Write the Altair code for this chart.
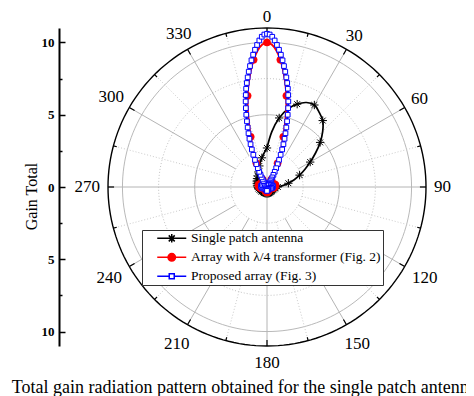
import altair as alt
import pandas as pd

# ---------------- data ----------------
series_names = ["Single patch antenna",
                "Array with \u03bb/4 transformer (Fig. 2)",
                "Proposed array (Fig. 3)"]

black_angles = [0, 5, 10, 15, 20, 25, 30, 35, 40, 45, 50, 55, 60, 65, 70, 75, 80, 85, 90,
                100, 110, 120, 130, 140, 150, 160, 170, 180, 190, 200, 210, 220, 230, 240,
                250, 260, 270, 280, 290, 300, 310, 320, 330, 340, 350, 355, 360]
black_gain = [2.7, 3.85, 4.85, 5.6, 6.1, 6.45, 6.55, 6.3, 6.0, 5.45, 4.8, 4.1, 3.45, 2.9, 2.4, 1.95, 1.5, 1.1, 0.75,
              0.55, 0.5, 0.45, 0.45, 0.45, 0.45, 0.45, 0.45, 0.45, 0.45, 0.45, 0.45, 0.45, 0.5, 0.5,
              0.55, 0.6, 0.65, 0.7, 0.75, 0.82, 0.9, 1.0, 1.2, 1.55, 2.05, 2.35, 2.7]

red_angles = [-180, -174, -168, -162, -156, -150, -144, -138, -132, -126, -120, -114,
              -108, -102, -96, -90, -84, -78, -72, -66, -60, -54, -48, -42,
              -36, -34, -32, -30, -28, -26, -24, -22, -20, -18, -16, -14, -12, -10, -8, -6, -4, -2,
              0, 2, 4, 6, 8, 10, 12, 14, 16, 18, 20, 22, 24, 26, 28, 30, 32, 34, 36,
              42, 48, 54, 60, 66, 72, 78, 84, 90, 96, 102, 108, 114, 120, 126, 132, 138, 144,
              150, 156, 162, 168, 174, 180]
red_gain = [0.37, 0.36, 0.34, 0.31, 0.27, 0.22, 0.16, 0.12, 0.1, 0.14, 0.2, 0.28,
            0.35, 0.42, 0.48, 0.54, 0.58, 0.6, 0.58, 0.52, 0.42, 0.3, 0.18, 0.08,
            0.1, 0.2, 0.36, 0.6, 0.92, 1.32, 1.8, 2.35, 2.95, 3.65, 4.5, 5.5, 6.45, 7.3, 8.1, 8.85, 9.45, 9.85,
            10.0, 9.85, 9.45, 8.85, 8.1, 7.3, 6.45, 5.5, 4.5, 3.65, 2.95, 2.35, 1.8, 1.32, 0.92, 0.6, 0.36, 0.2, 0.1,
            0.08, 0.18, 0.3, 0.42, 0.52, 0.58, 0.6, 0.58, 0.54, 0.48, 0.42, 0.35, 0.28, 0.2, 0.14, 0.1, 0.12, 0.16,
            0.22, 0.27, 0.31, 0.34, 0.36, 0.37]

blue_angles = [-180, -170, -160, -150, -140, -130, -120, -110, -100, -90, -80, -70, -60, -50, -40,
               -36, -35, -34, -33, -32, -31, -30, -29, -28, -27, -26, -25, -24, -23, -22, -21, -20, -19,
               -18, -17, -16, -15, -14, -13, -12, -11, -10, -9, -8, -7, -6, -5, -4, -3, -2, -1,
               0, 1, 2, 3, 4, 5, 6, 7, 8, 9, 10, 11, 12, 13, 14, 15, 16, 17, 18,
               19, 20, 21, 22, 23, 24, 25, 26, 27, 28, 29, 30, 31, 32, 33, 34, 35, 36,
               40, 50, 60, 70, 80, 90, 100, 110, 120, 130, 140, 150, 160, 170, 180]
blue_gain = [0.27, 0.25, 0.2, 0.15, 0.12, 0.15, 0.22, 0.3, 0.36, 0.4, 0.42, 0.38, 0.3, 0.18, 0.06,
             0.10, 0.14, 0.20, 0.27, 0.36, 0.47, 0.60, 0.76, 0.95, 1.18, 1.45, 1.74, 2.05, 2.42, 2.80, 3.17, 3.55, 3.93,
             4.33, 4.75, 5.20, 5.65, 6.10, 6.53, 6.95, 7.33, 7.70, 8.08, 8.45, 8.83, 9.20, 9.53, 9.85, 10.15, 10.40, 10.55,
             10.60, 10.55, 10.40, 10.15, 9.85, 9.53, 9.20, 8.83, 8.45, 8.08, 7.70, 7.33, 6.95, 6.53, 6.10, 5.65, 5.20, 4.75, 4.33,
             3.93, 3.55, 3.17, 2.80, 2.42, 2.05, 1.74, 1.45, 1.18, 0.95, 0.76, 0.60, 0.47, 0.36, 0.27, 0.20, 0.14, 0.10,
             0.06, 0.18, 0.3, 0.38, 0.42, 0.4, 0.36, 0.3, 0.22, 0.15, 0.12, 0.15, 0.2, 0.25, 0.27]

assert len(black_angles) == len(black_gain)
assert len(red_angles) == len(red_gain)
assert len(blue_angles) == len(blue_gain)

angle_label_values = [0, 30, 60, 90, 120, 150, 180, 210, 240, 270, 300, 330]
angle_label_texts = ["0", "30", "60", "90", "120", "150", "180", "210", "240", "270", "300", "330"]
minor_angle_values = [15, 45, 75, 105, 135, 165, 195, 225, 255, 285, 315, 345]
radial_major_ticks = [-10, -5, 0, 5, 10]
radial_minor_ticks = [-7.5, -2.5, 2.5, 7.5]
major_circles = [5, 10]
minor_circles = [2.5, 7.5]
outer_circle = [11]
circle_steps = list(range(0, 361, 2))
caption_text = ["Fig. 5. Total gain radiation pattern obtained for the single patch antenna, the array with \u03bb/4 transformer and the proposed array"]

# ---------------- helpers ----------------
RMAX = 11
SIZE = 318
xs = alt.Scale(domain=[-RMAX, RMAX], nice=False, zero=False)
ys = alt.Scale(domain=[-RMAX, RMAX], nice=False, zero=False)
SERIF = "Liberation Serif"


def X(f):
    return alt.X(f, type="quantitative", scale=xs, axis=None)


def Y(f, axis=None):
    return alt.Y(f, type="quantitative", scale=ys, axis=axis)


def polar(ch):
    return ch.transform_calculate(
        px="datum.gain * sin(datum.angle * PI / 180)",
        py="datum.gain * cos(datum.angle * PI / 180)",
    )


def circles(radii, **style):
    df = pd.DataFrame({"gain": radii, "angle": [circle_steps for _ in radii]})
    return polar(alt.Chart(df).transform_flatten(["angle"])).mark_line(**style).encode(
        x=X("px"), y=Y("py"), detail="gain:N", order="angle:Q"
    )


df_black = pd.DataFrame({"angle": black_angles, "gain": black_gain})
df_red = pd.DataFrame({"angle": red_angles, "gain": red_gain})
df_blue = pd.DataFrame({"angle": blue_angles, "gain": blue_gain})

circ_major = circles(major_circles, color="#b9b9b9", strokeWidth=1)
circ_minor = circles(minor_circles, color="#c4c4c4", strokeWidth=1, strokeDash=[1, 2])
circ_outer = circles(outer_circle, color="black", strokeWidth=1.4)

# spokes
spoke_major = alt.Chart(pd.DataFrame({"angle": angle_label_values})).transform_calculate(
    ri="(datum.angle % 90 == 0) ? 0 : 2.5"
).transform_calculate(
    x1="datum.ri * sin(datum.angle * PI / 180)",
    y1="datum.ri * cos(datum.angle * PI / 180)",
    x2=f"{RMAX} * sin(datum.angle * PI / 180)",
    y2=f"{RMAX} * cos(datum.angle * PI / 180)",
).mark_rule(color="#b4b4b4", strokeWidth=1).encode(
    x=X("x1"), y=Y("y1"), x2="x2:Q", y2="y2:Q"
)
spoke_minor = alt.Chart(pd.DataFrame({"angle": minor_angle_values})).transform_calculate(
    x1="2.5 * sin(datum.angle * PI / 180)",
    y1="2.5 * cos(datum.angle * PI / 180)",
    x2=f"{RMAX} * sin(datum.angle * PI / 180)",
    y2=f"{RMAX} * cos(datum.angle * PI / 180)",
).mark_rule(color="#cccccc", strokeWidth=1, strokeDash=[1, 2]).encode(
    x=X("x1"), y=Y("y1"), x2="x2:Q", y2="y2:Q"
)

# angular ticks on the outer circle
ticks = alt.Chart(pd.DataFrame({"angle": angle_label_values + minor_angle_values})).transform_calculate(
    tl="(datum.angle % 30 == 0) ? 0.42 : 0.24"
).transform_calculate(
    x1=f"({RMAX} - datum.tl) * sin(datum.angle * PI / 180)",
    y1=f"({RMAX} - datum.tl) * cos(datum.angle * PI / 180)",
    x2=f"{RMAX} * sin(datum.angle * PI / 180)",
    y2=f"{RMAX} * cos(datum.angle * PI / 180)",
).mark_rule(color="black", strokeWidth=1.2).encode(
    x=X("x1"), y=Y("y1"), x2="x2:Q", y2="y2:Q"
)

# angular labels
ang_labels = alt.Chart(pd.DataFrame({"angle": angle_label_values, "label": angle_label_texts})).transform_calculate(
    rr=f"{RMAX} + (8 - 2.5 * cos(datum.angle * PI / 180) + abs(sin(datum.angle * PI / 180)) * length(datum.label) * 4.25"
       f" + abs(cos(datum.angle * PI / 180)) * 6) / ({SIZE / 2} / {RMAX})"
).transform_calculate(
    tx="datum.rr * sin(datum.angle * PI / 180)",
    ty="datum.rr * cos(datum.angle * PI / 180)",
).mark_text(font=SERIF, fontSize=17, color="black", align="center", baseline="middle").encode(
    x=X("tx"), y=Y("ty"), text="label:N"
)

# y axes (left scale bar)
axis_main = alt.Axis(
    orient="left", offset=49, values=radial_major_ticks, labelExpr="abs(datum.value)",
    labelFont=SERIF, labelFontWeight="bold", labelFontSize=13, labelColor="black",
    labelPadding=5, ticks=False, tickSize=0, domain=True, domainColor="black", domainWidth=2,
    grid=False, title="Gain Total", titleFont=SERIF, titleFontSize=16, titleFontWeight="normal",
    titleColor="black", titlePadding=2, titleY=168,
)
axis_major_ticks = alt.Axis(
    orient="left", offset=43, values=radial_major_ticks, labels=False, domain=False,
    ticks=True, tickSize=6, tickColor="black", tickWidth=1.5, grid=False, title=None,
)
axis_minor_ticks = alt.Axis(
    orient="left", offset=46, values=radial_minor_ticks, labels=False, domain=False,
    ticks=True, tickSize=3, tickColor="black", tickWidth=1.5, grid=False, title=None,
)

# series
black_line = polar(alt.Chart(df_black)).mark_line(
    color="black", strokeWidth=1.7, interpolate="catmull-rom"
).encode(x=X("px"), y=Y("py", axis_main), order="angle:Q")
black_pts = polar(alt.Chart(df_black)).transform_filter(
    "datum.angle % 10 == 0 && datum.angle < 360"
).mark_point(
    shape="M-1,0H1M0,-1V1M-0.7,-0.7L0.7,0.7M-0.7,0.7L0.7,-0.7",
    size=70, stroke="black", strokeWidth=1, filled=False, opacity=1,
).encode(x=X("px"), y=Y("py"))

red_line = polar(alt.Chart(df_red)).mark_line(
    color="#ff0000", strokeWidth=2, interpolate="catmull-rom"
).encode(x=X("px"), y=Y("py", axis_major_ticks), order="angle:Q")
red_pts = polar(alt.Chart(df_red)).transform_filter(
    "datum.angle % 6 == 0 && datum.angle > -180"
).mark_point(
    shape="circle", size=52, fill="#ff0000", stroke="#ff0000", strokeWidth=0.5, filled=True, opacity=1,
).encode(x=X("px"), y=Y("py"))

blue_line = polar(alt.Chart(df_blue)).mark_line(
    color="#0000ff", strokeWidth=2, interpolate="catmull-rom"
).encode(x=X("px"), y=Y("py", axis_minor_ticks), order="angle:Q")
blue_pts = polar(alt.Chart(df_blue)).transform_filter(
    "datum.angle > -180"
).mark_point(
    shape="square", size=22, fill="white", stroke="#0000ff", strokeWidth=1, filled=True, opacity=1,
).encode(x=X("px"), y=Y("py"))

# legend (driven by explicit scale domains)
legend_paths = [
    "M-2.9,0H2.9M0,-0.85V0.85M-0.6,-0.6L0.6,0.6M-0.6,0.6L0.6,-0.6",
    "M-2.9,0H2.9M0.75,0A0.75,0.75,0,1,1,-0.75,0A0.75,0.75,0,1,1,0.75,0Z",
    "M-2.9,0H-0.5M0.5,0H2.9M-0.5,-0.5H0.5V0.5H-0.5Z",
]
LEG_EXPR = "datum.label + '\u00a0\u00a0\u00a0\u00a0'"
legend_layer = alt.Chart(pd.DataFrame({"series": series_names})).transform_filter("false").mark_point(
    filled=True, opacity=1, size=100, strokeWidth=1.5
).encode(
    shape=alt.Shape("series:N", scale=alt.Scale(domain=series_names, range=legend_paths),
                    legend=alt.Legend(title=None, labelExpr=LEG_EXPR)),
    fill=alt.Fill("series:N", scale=alt.Scale(domain=series_names, range=["transparent", "#ff0000", "white"]),
                  legend=alt.Legend(title=None, labelExpr=LEG_EXPR)),
    stroke=alt.Stroke("series:N", scale=alt.Scale(domain=series_names, range=["black", "#ff0000", "#0000ff"]),
                      legend=alt.Legend(title=None, labelExpr=LEG_EXPR)),
)

caption = alt.Chart(pd.DataFrame({"t": caption_text})).mark_text(
    font=SERIF, fontSize=18, color="black", align="left", baseline="alphabetic"
).encode(text="t:N", x=alt.value(-147), y=alt.value(365))

chart = alt.layer(
    circ_minor, circ_major, spoke_minor, spoke_major, circ_outer, ticks, ang_labels,
    black_line, black_pts, red_line, red_pts, blue_line, blue_pts, legend_layer, caption,
).resolve_axis(y="independent").properties(
    width=SIZE, height=SIZE,
    autosize=alt.AutoSizeParams(type="none"),
    padding={"left": 100, "top": 20, "right": 40, "bottom": 50},
).configure_view(stroke=None).configure_legend(
    orient="none", legendX=34, legendY=202, padding=1.6,
    strokeColor="#333333", fillColor="white",
    labelFont=SERIF, labelFontSize=13.5, labelColor="black", labelLimit=400,
    symbolSize=100, symbolStrokeWidth=1.5, symbolOffset=21.4, labelOffset=12.4, rowPadding=4,
)

chart.save("out.html", embed_options={"renderer": "svg", "actions": False})
